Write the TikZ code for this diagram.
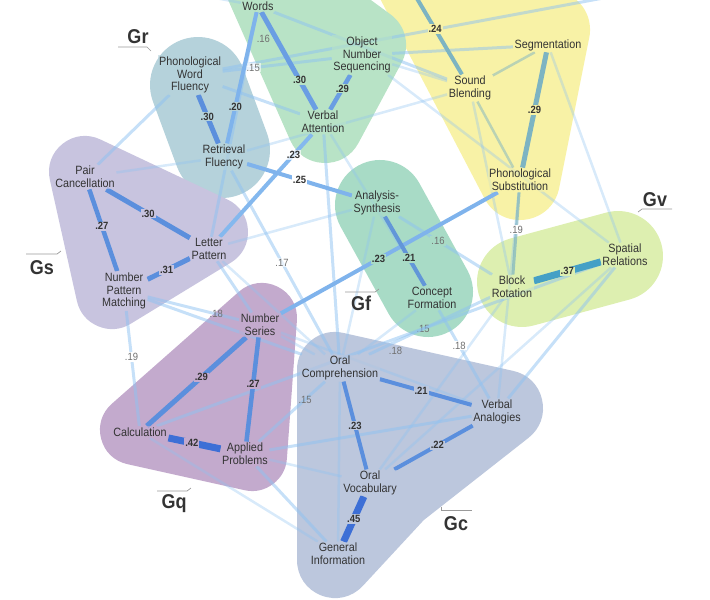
\documentclass[tikz,border=0pt]{standalone}
\usepackage{fontspec}
\setmainfont{Liberation Sans}[FakeStretch=0.9]
\usetikzlibrary{positioning}

\definecolor{gwmfill}{HTML}{B8E3C6}
\definecolor{grfill}{HTML}{B5D2DB}
\definecolor{gsfill}{HTML}{C8C4DF}
\definecolor{gqfill}{HTML}{C3AACD}
\definecolor{gffill}{HTML}{A8DBC6}
\definecolor{gafill}{HTML}{F8F2A6}
\definecolor{gvfill}{HTML}{DDEFB0}
\definecolor{gcfill}{HTML}{BCC7DD}
\definecolor{ink}{HTML}{333333}
\definecolor{weakgray}{HTML}{707070}
\definecolor{rulegray}{HTML}{9A9A9A}
\definecolor{linkblue}{HTML}{8EC2F2}
\definecolor{tieblue}{HTML}{5B8FDD}
\definecolor{deepblue}{HTML}{3D6FD6}
\definecolor{tealline}{HTML}{7DB4C2}
\definecolor{tealdeep}{HTML}{45A0C6}

\newcommand\abilityfont{\fontsize{12}{12.6}\selectfont}
\newcommand\factorfont{\fontsize{20}{20}\selectfont\bfseries}
\newcommand\valfont{\fontsize{10.5}{10.5}\selectfont\bfseries}
\newcommand\weakfont{\fontsize{10.5}{10.5}\selectfont}

\pgfdeclarelayer{blob}
\pgfdeclarelayer{edge}
\pgfsetlayers{blob,edge,main}

\tikzset{
    ability/.style={align=center, font=\abilityfont, text=ink, inner sep=1.5pt, fill opacity=0.6, text opacity=1},
    factor/.style={font=\factorfont, text=ink},
    rule/.style={draw=rulegray, line width=0.7pt},
    link/.style={draw=linkblue, line width=3pt, draw opacity=0.5},
    faint/.style={draw=linkblue, line width=2.5pt, draw opacity=0.35},
    tie/.style={draw=tieblue, line width=#1},
    deeptie/.style={draw=deepblue, line width=#1},
    tealtie/.style={draw=tealline, line width=#1},
    val/.style={font=\valfont, text=ink, inner sep=1pt},
    weakval/.style={font=\weakfont, text=weakgray, inner sep=1pt},
}

\begin{document}
\begin{tikzpicture}[x=1pt, y=-1pt]
\useasboundingbox (0,0) rectangle (710,600);
\clip (0,0) rectangle (710,600);

% Factor areas
\begin{pgfonlayer}{blob}
    \filldraw[draw=gafill, fill=gafill, line width=80pt, line join=round] (405,-40) -- (550,30) -- (520,180) -- cycle;
    \filldraw[draw=gwmfill, fill=gwmfill, line width=76pt, line join=round] (252,-40) -- (368,45) -- (325,125) -- cycle;
    \draw[grfill, line width=96pt, line cap=round] (198,85) -- (222,150);
    \filldraw[draw=gsfill, fill=gsfill, line width=72pt, line join=round] (85,172) -- (212,232) -- (112,293) -- cycle;
    \draw[gffill, line width=90pt, line cap=round] (380,205) -- (428,292);
    \draw[gvfill, line width=90pt, line cap=round] (522,282) -- (618,256);
    \filldraw[draw=gqfill, fill=gqfill, line width=70pt, line join=round] (262,318) -- (135,430) -- (252,456) -- cycle;
    \filldraw[draw=gcfill, fill=gcfill, line width=76pt, line join=round] (335,370) -- (505,408) -- (398,492) -- (335,560) -- cycle;
\end{pgfonlayer}

% Abilities
\node[ability, fill=gwmfill] (words) at (258,6) {Words};
\node[ability, fill=gwmfill] (ons) at (362,55) {Object\\Number\\Sequencing};
\node[ability, fill=gwmfill] (va) at (323,122) {Verbal\\Attention};
\node[ability, fill=grfill] (pwf) at (190,75) {Phonological\\Word\\Fluency};
\node[ability, fill=grfill] (rf) at (224,157) {Retrieval\\Fluency};
\node[ability, fill=gsfill] (pc) at (85,177) {Pair\\Cancellation};
\node[ability, fill=gsfill] (lp) at (209,249) {Letter\\Pattern};
\node[ability, fill=gsfill] (npm) at (124,291) {Number\\Pattern\\Matching};
\node[ability, fill=gqfill] (ns) at (260,325) {Number\\Series};
\node[ability, fill=gqfill] (calc) at (140,432) {Calculation};
\node[ability, fill=gqfill] (ap) at (245,454) {Applied\\Problems};
\node[ability, fill=gffill] (as) at (377,203) {Analysis-\\Synthesis};
\node[ability, fill=gffill] (cf) at (432,298) {Concept\\Formation};
\node[ability, fill=gafill] (sb) at (470,88) {Sound\\Blending};
\node[ability, fill=gafill] (seg) at (548,45) {Segmentation};
\node[ability, fill=gafill] (ps) at (520,180) {Phonological\\Substitution};
\node[ability, fill=gvfill] (br) at (512,287) {Block\\Rotation};
\node[ability, fill=gvfill] (sr) at (625,255) {Spatial\\Relations};
\node[ability, fill=gcfill] (oc) at (340,368) {Oral\\Comprehension};
\node[ability, fill=gcfill] (van) at (497,412) {Verbal\\Analogies};
\node[ability, fill=gcfill] (ov) at (370,483) {Oral\\Vocabulary};
\node[ability, fill=gcfill] (gi) at (338,554) {General\\Information};
\coordinate (upsb) at (406,-20);
\coordinate (upleft) at (120,-20);
\coordinate (upright) at (700,-20);

% Factor names
\node[factor] (gr) at (138,37) {Gr};
\node[factor] (gs) at (42,268) {Gs};
\node[factor] (gf) at (361,303) {Gf};
\node[factor] (gv) at (655,200) {Gv};
\node[factor] (gq) at (174,504) {Gq};
\node[factor] (gc) at (456,524) {Gc};
\draw[rule] (118,47) -- (147,47) -- (151,51);
\draw[rule] (26,254) -- (57,254) -- (61,251);
\draw[rule] (345,292) -- (375,292) -- (379,289);
\draw[rule] (638,212) -- (642,209) -- (672,209);
\draw[rule] (157,491) -- (187,491) -- (191,488);
\draw[rule] (441,507) -- (441,510) -- (472,510);

\begin{pgfonlayer}{edge}
% Links — across factors
\draw[link] (pwf) -- (va);
\draw[link] (pwf) -- (pc);
\draw[link] (pwf) -- (upright);
\draw[faint] (rf) -- (pc);
\draw[faint] (rf) -- (sb);
\draw[link] (words) -- (sb);
\draw[faint] (words) -- (upleft);
\draw[link] (ons) -- (seg);
\draw[faint] (ons) -- (sb);
\draw[faint] (ons) -- (sr);
\draw[faint] (sb) -- (br);
\draw[tealtie=2.5pt, draw opacity=0.5] (sb) -- (ps);
\draw[tealtie=2.5pt, draw opacity=0.5] (sb) -- (seg);
\draw[faint] (seg) -- (sr);
\draw[link] (va) -- (oc);
\draw[faint] (va) -- (cf);
\draw[faint] (oc) -- (cf);
\draw[faint] (as) -- (oc);
\draw[faint] (as) -- (lp);
\draw[link] (lp) -- (ns);
\draw[faint] (lp) -- (oc);
\draw[link] (npm) -- (oc);
\draw[faint] (ns) -- (oc);
\draw[faint] (ns) -- (van);
\draw[faint] (ps) -- (van);
\draw[link] (sr) -- (van);
\draw[faint] (sr) -- (ov);
\draw[faint] (br) -- (ov);
\draw[link] (ap) -- (van);
\draw[faint] (ap) -- (ov);
\draw[link] (ap) -- (gi);
\draw[faint] (calc) -- (gi);
\draw[faint] (oc) -- (gi);

% Links — labelled, across factors
\draw[link] (words) -- node[weakval, pos=0.12, right=3pt] {.16} (lp);
\draw[link] (pwf) -- node[weakval, pos=0.28, fill=white, fill opacity=0.6, text opacity=1] {.15} (ons);
\draw[link] (rf) -- node[weakval, pos=0.5, fill=white, fill opacity=0.6, text opacity=1] {.17} (oc);
\draw[link] (npm) -- node[weakval, pos=0.75] {.18} (ns);
\draw[link] (npm) -- node[weakval, pos=0.4, fill=white] {.19} (calc);
\draw[link] (ap) -- node[weakval, pos=0.7] {.15} (oc);
\draw[link] (sr) -- node[weakval, pos=0.4] {.15} (calc);
\draw[link] (oc) -- node[weakval, pos=0.22, below=3pt] {.18} (br);
\draw[link] (cf) -- node[weakval, pos=0.4, fill=white] {.18} (van);
\draw[link] (as) -- node[weakval, pos=0.42, fill=gffill] {.16} (br);
\draw[tealtie=3pt, draw opacity=0.7] (ps) -- node[weakval, pos=0.45, fill=white] {.19} (br);
\draw[tie=4pt, draw=linkblue!80!tieblue] (va) -- node[val, pos=0.2, fill=white, fill opacity=0.7, text opacity=1] {.23} (lp);
\draw[tie=4pt, draw=linkblue!70!tieblue] (ns) -- node[val, pos=0.45, fill=gffill] {.23} (ps);
\draw[tie=4pt, draw=linkblue!70!tieblue] (rf) -- node[val, pos=0.5, fill=white] {.25} (as);
\draw[tie=4pt, draw=linkblue!70!tieblue] (words) -- node[val, pos=0.72, fill=grfill] {.20} (rf);

% Ties — within factors
\draw[tie=5pt, draw=tieblue!70!linkblue] (words) -- node[val, pos=0.7, fill=gwmfill] {.30} (va);
\draw[tie=4.5pt, draw=tieblue!70!linkblue] (ons) -- node[val, pos=0.4, fill=gwmfill] {.29} (va);
\draw[tie=5pt] (pwf) -- node[val, pos=0.45, fill=grfill] {.30} (rf);
\draw[tie=5pt] (pc) -- node[val, pos=0.5, fill=gsfill] {.30} (lp);
\draw[tie=4.5pt] (pc) -- node[val, pos=0.45, fill=gsfill] {.27} (npm);
\draw[tie=5pt] (lp) -- node[val, pos=0.55, fill=gsfill] {.31} (npm);
\draw[tie=5pt] (ns) -- node[val, pos=0.45, fill=gqfill] {.29} (calc);
\draw[tie=4.5pt] (ns) -- node[val, pos=0.45, fill=gqfill] {.27} (ap);
\draw[deeptie=7pt] (calc) -- node[val, pos=0.45, fill=gqfill] {.42} (ap);
\draw[tie=4pt] (oc) -- node[val, pos=0.45, fill=gcfill] {.21} (van);
\draw[tie=4pt] (oc) -- node[val, pos=0.5, fill=gcfill] {.23} (ov);
\draw[tie=4pt] (van) -- node[val, pos=0.45, fill=gcfill] {.22} (ov);
\draw[deeptie=7pt] (ov) -- node[val, pos=0.5, fill=gcfill] {.45} (gi);
\draw[tie=4pt, draw=tieblue!80!tealline] (as) -- node[val, pos=0.6, fill=gffill] {.21} (cf);
\draw[tealtie=4pt] (sb) -- node[val, pos=0.48, fill=gafill] {.24} (upsb);
\draw[tealtie=5pt] (seg) -- node[val, pos=0.5, fill=gafill] {.29} (ps);
\draw[draw=tealdeep, line width=7pt] (br) -- node[val, pos=0.5, fill=gvfill] {.37} (sr);
\end{pgfonlayer}

\end{tikzpicture}
\end{document}
